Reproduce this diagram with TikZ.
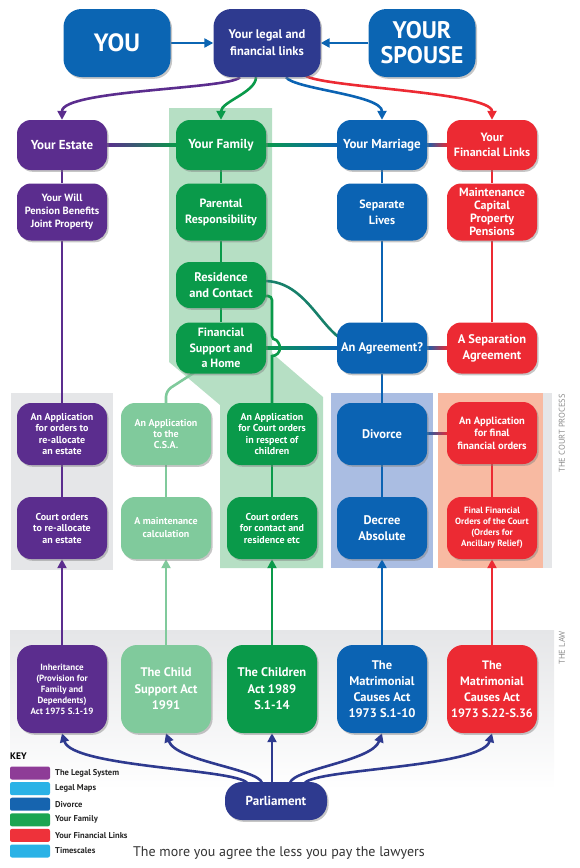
\documentclass[tikz,border=0pt]{standalone}
\usepackage{fontspec}
\setmainfont{PT Sans}
\usetikzlibrary{positioning,arrows.meta,calc,shadows}
\definecolor{legal}{HTML}{2E3A8F}
\definecolor{you}{HTML}{0B65B3}
\definecolor{estate}{HTML}{5B2D8E}
\definecolor{family}{HTML}{0A9A4A}
\definecolor{csa}{HTML}{80CA9C}
\definecolor{marriage}{HTML}{0B63B3}
\definecolor{money}{HTML}{EC2A33}
\definecolor{linkteal}{HTML}{17806A}
\definecolor{softgreen}{HTML}{B6DFC4}
\definecolor{softblue}{HTML}{AABDE2}
\definecolor{softred}{HTML}{F8BAA2}
\definecolor{softgrey}{HTML}{E5E6E8}
\definecolor{keypurple}{HTML}{8E3C97}
\definecolor{keysky}{HTML}{2AB2E6}
\definecolor{keyblue}{HTML}{1664AF}
\definecolor{keygreen}{HTML}{1BA551}
\definecolor{keyred}{HTML}{EE323A}
\pgfdeclarelayer{back}
\pgfdeclarelayer{wires}
\pgfsetlayers{back,wires,main}
\tikzset{
  pill/.style   = {rectangle, rounded corners=14pt, fill=#1, text=white, align=center,
                   inner sep=1pt, minimum width=90pt, minimum height=50pt,
                   drop shadow={shadow xshift=1.6pt, shadow yshift=-1.8pt, opacity=.45}},
  big/.style    = {pill=#1, rounded corners=18pt, minimum width=107pt, minimum height=68pt},
  fnt/.style 2 args = {font=\fontsize{#1}{#2}\selectfont\bfseries},
  wire/.style   = {line width=2.6pt, draw=#1},
  arr/.style    = {wire=#1, -{Triangle[length=9pt,width=9pt]}},
  keybox/.style = {rectangle, rounded corners=2pt, fill=#1, minimum width=40pt,
                   minimum height=13pt, inner sep=0pt},
  keylbl/.style = {anchor=west, inner sep=0pt, font=\fontsize{8.5}{9}\selectfont\bfseries, text=black!85},
  side/.style   = {rotate=90, anchor=east, inner sep=0pt, font=\fontsize{8.5}{9}\selectfont, text=black!45},
}
\newcommand{\gradlink}[4]{%
  \path[left color=#3, right color=#4] ($(#1.east)+(-1,-1.3)$) rectangle ($(#2.west)+(1,1.3)$);}

\begin{document}
\begin{tikzpicture}[x=1pt, y=-1pt]
  \useasboundingbox (0,0) rectangle (580,868);

  % top row
  \node[big=you, fnt={25}{25}] (you) at (117,43) {YOU};
  \node[big=legal, fnt={12.5}{17}] (links) at (267,43) {Your legal and\\financial links};
  \node[big=you, fnt={24}{25}] (spouse) at (422,43) {YOUR\\SPOUSE};

  % the four links
  \node[pill=estate, fnt={13}{14}] (estate) at (62,145) {Your Estate};
  \node[pill=family, fnt={13}{14}] (family) at (221,145) {Your Family};
  \node[pill=marriage, fnt={13}{14}] (marriage) at (382,145) {Your Marriage};
  \node[pill=money, fnt={12}{15}] (finlinks) at (492,145) {Your\\Financial Links};

  \node[pill=estate, fnt={10.5}{13}, minimum height=57pt] (will) at (62,212) {Your Will\\Pension Benefits\\Joint Property};
  \node[pill=family, fnt={12}{16}, minimum height=57pt] (parental) at (221,212) {Parental\\Responsibility};
  \node[pill=marriage, fnt={12}{16}, minimum height=57pt] (separate) at (382,212) {Separate\\Lives};
  \node[pill=money, fnt={12}{12.8}, minimum height=57pt] (assets) at (492,212) {Maintenance\\Capital\\Property\\Pensions};

  \node[pill=family, fnt={12.5}{16}, minimum height=46pt] (resid) at (221,285) {Residence\\and Contact};
  \node[pill=family, fnt={12}{15.5}, minimum height=51pt] (finsup) at (221,348) {Financial\\Support and\\a Home};
  \node[pill=marriage, fnt={12.5}{14}, minimum height=51pt] (agree) at (382,348) {An Agreement?};
  \node[pill=money, fnt={12.5}{16}, minimum height=51pt] (sepagr) at (492,348) {A Separation\\Agreement};

  % the court process
  \node[pill=estate, fnt={10}{11.3}, minimum height=62pt] (appest) at (62,434) {An Application\\for orders to\\re-allocate\\an estate};
  \node[pill=csa, fnt={10}{11.3}, minimum height=62pt] (appcsa) at (166,434) {An Application\\to the\\C.S.A.};
  \node[pill=family, fnt={10}{11.2}, minimum height=62pt] (appkids) at (272,434) {An Application\\for Court orders\\in respect of\\children};
  \node[pill=marriage, fnt={12.5}{14}, minimum height=62pt] (divorce) at (382,434) {Divorce};
  \node[pill=money, fnt={10.5}{12.5}, minimum height=62pt] (appfin) at (492,433) {An Application\\for final\\financial orders};

  \node[pill=estate, fnt={10}{11.5}, minimum height=62pt] (ordest) at (62,528) {Court orders\\to re-allocate\\an estate};
  \node[pill=csa, fnt={10}{13}, minimum height=62pt] (calc) at (166,528) {A maintenance\\calculation};
  \node[pill=family, fnt={10}{11.5}, minimum height=62pt] (ordkids) at (272,528) {Court orders\\for contact and\\residence etc};
  \node[pill=marriage, fnt={12.5}{16}, minimum height=62pt] (decree) at (382,528) {Decree\\Absolute};
  \node[pill=money, fnt={9}{11}, minimum height=62pt] (ordfin) at (492,528) {Final Financial\\Orders of the Court\\(Orders for\\Ancillary Relief)};

  % the law
  \node[pill=estate, fnt={9}{11}, minimum height=88pt, rounded corners=16pt] (inh) at (62,689) {Inheritance\\(Provision for\\Family and\\Dependents)\\Act 1975 S.1-19};
  \node[pill=csa, fnt={12.5}{16.5}, minimum height=88pt, rounded corners=16pt] (csact) at (166,689) {The Child\\Support Act\\1991};
  \node[pill=family, fnt={12.5}{16.5}, minimum height=88pt, rounded corners=16pt] (chact) at (272,689) {The Children\\Act 1989\\S.1-14};
  \node[pill=marriage, fnt={12.5}{16}, minimum height=88pt, rounded corners=16pt] (mcaone) at (382,689) {The\\Matrimonial\\Causes Act\\1973 S.1-10};
  \node[pill=money, fnt={12.2}{16}, minimum height=88pt, rounded corners=16pt] (mcatwo) at (492,689) {The\\Matrimonial\\Causes Act\\1973 S.22-S.36};

  \node[pill=legal, fnt={13}{14}, minimum width=102pt, minimum height=38pt, rounded corners=17pt] (parl) at (276,801) {Parliament};

  \coordinate (hop) at (appkids.north |- finsup.east);

  \begin{pgfonlayer}{back}
    \fill[softgreen] (169,108) -- (272,108) -- (272,353) -- (323,397) -- (323,568)
      -- (220,568) -- (220,405) -- (169,362) -- cycle;
    \fill[softgrey] (11,393) rectangle (113,570);
    \fill[softblue] (331,393) rectangle (433,568);
    \fill[softred] (438,393) rectangle (543,568);
    \fill[softgrey] (543,393) rectangle (552,568);
    \fill[top color=softgrey, bottom color=white] (10,630) rectangle (554,790);
  \end{pgfonlayer}

  \begin{pgfonlayer}{wires}
    \draw[arr=you] (you) -- (links); \draw[arr=you] (spouse) -- (links);
    \draw[arr=estate] ($(links.south)+(-27,0)$) .. controls +(-10,12) and +(0,-30) .. (estate.north);
    \draw[arr=family] ($(links.south)+(-11,0)$) .. controls +(0,15) and +(0,-18) .. (family.north);
    \draw[arr=marriage] ($(links.south)+(19,0)$) .. controls +(8,12) and +(0,-25) .. (marriage.north);
    \draw[arr=money] ($(links.south)+(38,-2)$) .. controls +(12,12) and +(0,-28) .. (finlinks.north);

    \gradlink{estate}{family}{estate}{family}
    \gradlink{family}{marriage}{family}{marriage}
    \gradlink{marriage}{finlinks}{marriage}{money}
    \gradlink{finsup}{agree}{family}{marriage}
    \gradlink{agree}{sepagr}{marriage}{money}
    \gradlink{divorce}{appfin}{marriage}{money}

    \draw[wire=estate] (estate) -- (will) (will) -- (appest) (appest) -- (ordest);
    \draw[arr=estate] (inh) -- (ordest);

    \draw[wire=family] (family) -- (parental) (parental) -- (resid) (resid) -- (finsup);
    \draw[wire=linkteal] ($(resid.east)+(-2,-4)$) .. controls +(38,0) and +(-22,-16) .. ($(agree.west)+(3,-10)$);
    \draw[wire=family, rounded corners=4pt] ($(resid.east)+(-3,11)$) -| ($(hop)+(0,-8)$)
      [sharp corners] arc[start angle=-90, end angle=90, radius=8] -- (appkids.north);
    \draw[wire=family] (appkids) -- (ordkids);
    \draw[arr=family] (chact) -- (ordkids);

    \draw[wire=csa, rounded corners=6pt] ($(finsup.south)+(-27,-1)$) -- ($(appcsa.north)+(0,-12)$) -- (appcsa.north);
    \draw[wire=csa] (appcsa) -- (calc);
    \draw[arr=csa] (csact) -- (calc);

    \draw[wire=marriage] (marriage) -- (separate) (separate) -- (agree) (agree) -- (divorce) (divorce) -- (decree);
    \draw[arr=marriage] (mcaone) -- (decree);

    \draw[wire=money] (finlinks) -- (assets) (assets) -- (sepagr) (appfin) -- (ordfin);
    \draw[arr=money] (mcatwo) -- (ordfin);

    \draw[arr=legal] ($(parl.north)+(-29,1)$) .. controls +(-12,-14) and +(10,34) .. (inh.south);
    \draw[arr=legal] ($(parl.north)+(-14,1)$) .. controls +(-4,-14) and +(10,28) .. (csact.south);
    \draw[arr=legal] (chact.south |- parl.north) -- (chact.south);
    \draw[arr=legal] ($(parl.north)+(14,1)$) .. controls +(4,-14) and +(-10,28) .. (mcaone.south);
    \draw[arr=legal] ($(parl.north)+(29,1)$) .. controls +(12,-14) and +(-10,34) .. (mcatwo.south);
  \end{pgfonlayer}

  \node[side] (courtlbl) at (562,394) {THE COURT PROCESS};
  \node[side] (lawlbl) at (562,631) {THE LAW};

  % key
  \node[anchor=west, inner sep=0pt, fnt={9.5}{10}] (key) at (10,756) {KEY};
  \foreach \col/\txt [count=\i from 0] in {keypurple/The Legal System, keysky/Legal Maps,
      keyblue/Divorce, keygreen/Your Family, keyred/Your Financial Links, keysky/Timescales}{
    \node[keybox=\col] (k\i) at (30,{773+15.6*\i}) {};
    \node[keylbl] (kl\i) at (55,{773+15.6*\i}) {\txt};
  }

  \node[font=\fontsize{14}{16}\selectfont, text=black!80] (motto) at (279,853) {The more you agree the less you pay the lawyers};
\end{tikzpicture}
\end{document}
